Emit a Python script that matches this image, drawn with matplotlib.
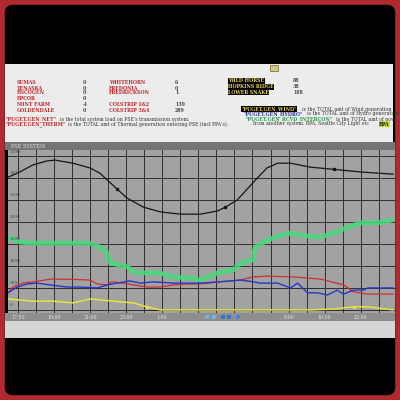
import numpy as np
import matplotlib
matplotlib.use("Agg")
import matplotlib.pyplot as plt
from matplotlib.patches import FancyBboxPatch, Rectangle

# Stunden ab 17:00
hours_total = [-0.55, 0.1, 0.83, 1.6, 2.05, 3.05, 4.0, 4.55, 5.5, 6.05, 6.95, 7.9, 9.0, 10.1,
               11.05, 11.5, 12.15, 13.15, 13.8, 14.4, 15.1, 16.2, 17.5, 19.0, 20.8]
net_load = [3020, 3140, 3300, 3390, 3410, 3340, 3230, 3110, 2750, 2545, 2340, 2230, 2180, 2180,
            2250, 2340, 2500, 2950, 3230, 3340, 3340, 3250, 3200, 3140, 3090]

hours_intercon = [-0.55, 0.1, 0.83, 1.95, 3.05, 4.0, 4.55, 4.95, 5.1, 5.65, 6.1, 6.4, 7.15, 7.9,
                  8.6, 9.4, 10.1, 11.05, 11.95, 12.35, 13.0, 13.15, 13.85, 14.55, 15.1, 16.05,
                  16.8, 17.5, 18.3, 19.0, 19.9, 20.8]
rcvd_intercon = [1660, 1545, 1520, 1520, 1520, 1520, 1430, 1300, 1070, 1020, 980, 860, 840, 840,
                 750, 730, 680, 840, 910, 1070, 1140, 1430, 1590, 1700, 1750, 1680,
                 1660, 1750, 1890, 1980, 1980, 2050]

hours_therm = [-0.55, -0.28, 0.28, 1.22, 1.78, 2.72, 4.0, 4.4, 4.95, 5.2, 5.85, 6.4, 7.15, 7.9,
               8.6, 9.4, 10.1, 11.2, 12.35, 13.0, 13.85, 15.3, 16.8, 18.05, 18.6, 19.4, 20.8]
thermal = [390, 520, 610, 660, 700, 700, 680, 590, 570, 640, 610, 570, 520, 520,
           570, 590, 590, 640, 680, 750, 770, 750, 700, 570, 410, 360, 360]

hours_hydro = [-0.55, -0.05, 0.5, 1.05, 1.78, 2.72, 3.45, 4.4, 4.95, 5.5, 6.2, 6.8, 7.5, 8.6,
               10.1, 11.2, 12.35, 13.05, 13.4, 14.4, 15.1, 15.5, 16.05, 16.6, 17.15, 17.7,
               18.05, 18.6, 19.15, 19.4, 20.8]
hydro = [390, 520, 590, 610, 570, 520, 520, 500, 570, 610, 660, 610, 640, 610,
         610, 640, 680, 640, 610, 610, 500, 610, 390, 390, 340, 450, 360, 450, 450, 500, 500]

hours_wind = [-0.55, 0.83, 1.95, 3.05, 4.0, 5.3, 6.4, 7.15, 7.9, 10.1, 13.45, 16.2, 17.5,
              18.6, 19.4, 20.8]
wind = [250, 200, 200, 160, 250, 200, 160, 70, 0, 0, 0, 0, 20, 70, 70, 0]

ytick_vals = [0, 500, 1000, 1500, 2000, 2500, 3000, 3500]
xtick_pos = [0, 2, 4, 6, 8, 15, 17, 19]
xtick_labels = ["17:00", "19:00", "21:00", "23:00", "1:00", "8:00", "10:00", "12:00"]

left_names = ["SUMAS", "TENASKA", "ENCOGEN", "EPCOR", "MINT FARM", "GOLDENDALE"]
left_vals = ["0", "0", "0", "0", "-1", "0"]
mid_names = ["WHITEHORN", "FREDONIA", "FREDRICKSON", "", "COLSTRIP 1&2", "COLSTRIP 3&4"]
mid_vals = ["6", "0", "1", "", "139", "289"]
wind_names = ["WILD HORSE", "HOPKINS RIDGE", "LOWER SNAKE"]
wind_vals = ["88", "38", "188"]


def px(x, y):
    return x / 400, 1 - y / 400


def box(x, y, w, h, color, z=-5, **kw):
    fig.patches.append(Rectangle(px(x, y + h), w / 400, h / 400, transform=fig.transFigure,
                                 facecolor=color, edgecolor=kw.pop("edgecolor", "none"),
                                 zorder=z, **kw))


fig = plt.figure(figsize=(4, 4), dpi=100)
fig.patch.set_facecolor("#b02a30")

# schwarzer Rahmen
fig.patches.append(FancyBboxPatch((0.012, 0.012), 0.976, 0.976, boxstyle="round,pad=0,rounding_size=0.02",
                                  transform=fig.transFigure, facecolor="black", edgecolor="none",
                                  zorder=-10))
box(5, 64, 388, 78, "#ececec")          # weisses Textfeld
box(5, 142, 390, 8, "#757575")          # Kopfzeile PSE SYSTEM
box(5, 313, 390, 8, "#8e8e8e")          # Streifen Zeitachse
box(5, 321, 390, 17, "#d6d6d6")
box(270, 65, 8, 6, "#c8c890", edgecolor="#8a7a30", linewidth=0.6)

fig.text(*px(11, 146), "PSE SYSTEM", fontsize=3.6, color="#e0e0e0", va="center", family="DejaVu Serif")

# Textblock
tk = dict(fontsize=3.4, family="DejaVu Serif", fontweight="bold", va="center")
tn = dict(fontsize=3.3, family="DejaVu Serif", va="center", color="#333333")
rows = [83, 88, 93, 98, 104, 110]
for i, y in enumerate(rows):
    fig.text(*px(17, y), left_names[i], color="#c0282d", **tk)
    fig.text(*px(83, y), left_vals[i], color="#444444", **tk)
    fig.text(*px(109, y), mid_names[i], color="#c0282d", **tk)
    fig.text(*px(175, y), mid_vals[i], color="#444444", **tk)
for i, y in enumerate([81, 87, 92]):
    fig.text(*px(228, y), wind_names[i], color="#e8d060",
             bbox=dict(facecolor="black", edgecolor="none", pad=0.3), **tk)
    fig.text(*px(293, y), wind_vals[i], color="#444444", **tk)

fig.text(*px(5, 119), '"PUGET.GEN_NET"', color="#c0282d", **tk)
fig.text(*px(60, 119), "is the total system load on PSE's transmission system.", **tn)
fig.text(*px(5, 124), '"PUGET.GEN_THERM"', color="#c0282d", **tk)
fig.text(*px(68, 124), "is the TOTAL amt of Thermal generation entering PSE (incl PPA's).", **tn)
fig.text(*px(241, 109), '"PUGET.GEN_WIND"', color="#e8d060",
         bbox=dict(facecolor="black", edgecolor="none", pad=0.3), **tk)
fig.text(*px(302, 109), "is the TOTAL amt of Wind generation", **tn)
fig.text(*px(243, 114), '"PUGET.GEN_HYDRO"', color="#2a3a90", **tk)
fig.text(*px(307, 114), "is the TOTAL amt of Hydro generation", **tn)
fig.text(*px(245, 119), '"PUGET.GEN_RCVD_INTERCON"', color="#2a9a50", **tk)
fig.text(*px(336, 119), "is the TOTAL amt of pow", **tn)
fig.text(*px(253, 124), "from another system. BPA, Seattle City Light etc", **tn)
fig.text(*px(379, 124), "BPA", color="#202020",
         bbox=dict(facecolor="#c8e020", edgecolor="none", pad=0.3), **tk)

# Diagramm
ax = fig.add_axes([8 / 400, 1 - 313 / 400, 387 / 400, 163 / 400])
ax.set_facecolor("#a2a2a2")
ax.plot(hours_intercon, rcvd_intercon, color="#45dc7a", linewidth=3.4, alpha=0.85, solid_capstyle="butt")
ax.plot(hours_therm, thermal, color="#cc3030", linewidth=0.9)
ax.plot(hours_hydro, hydro, color="#2438c8", linewidth=1.0)
ax.plot(hours_wind, wind, color="#e6e040", linewidth=1.1, marker="o", markersize=1.5, markevery=[7, 13])
ax.plot(hours_total, net_load, color="#151515", linewidth=0.9, marker="s", markersize=1.4,
        markevery=[8, 15, 22])

ax.set_xlim(-0.55, 20.9)
ax.set_ylim(-70, 3640)
ax.set_xticks(np.arange(0, 21, 1), minor=True)
ax.set_yticks(ytick_vals)
ax.set_xticks(xtick_pos)
ax.set_xticklabels(xtick_labels)
ax.set_yticklabels([])
ax.grid(True, which="both", color="#2e2e2e", linewidth=0.7)
ax.set_axisbelow(True)
ax.tick_params(axis="both", which="both", length=0)
ax.tick_params(axis="x", pad=1.5, labelsize=3.4, labelcolor="#e4e4e4")
for lab in ax.get_xticklabels():
    lab.set_family("DejaVu Serif")
for v in ytick_vals:
    ax.text(-0.45, v + 60, str(v), fontsize=3.2, color="#4a4a4a", family="DejaVu Serif", va="bottom")
for s in ax.spines.values():
    s.set_visible(False)

# Navigationssymbole
for x, c in zip([205, 212, 221, 227, 236], ["#7ab0e0", "#7ab0e0", "#3a70d0", "#3a70d0", "#5080d0"]):
    box(x, 315, 4, 4, c, z=5)

fig.savefig("out.png", dpi=100, facecolor=fig.get_facecolor())
